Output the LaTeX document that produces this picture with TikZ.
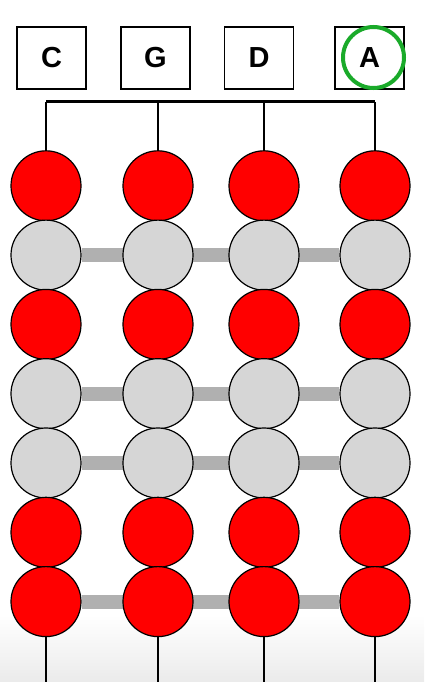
\documentclass[tikz,border=0pt]{standalone}
\usepackage{fontspec}
\setmainfont{Liberation Sans}
\usetikzlibrary{positioning,backgrounds}
\definecolor{padRed}{HTML}{FF0000}
\definecolor{padGray}{HTML}{D6D6D6}
\definecolor{barGray}{HTML}{B0B0B0}
\definecolor{ringGreen}{HTML}{1AAA2A}

\begin{document}
\begin{tikzpicture}[x=1pt,y=-1pt,>=latex]
  \tikzstyle{key}=[draw,line width=1.2pt,minimum width=69pt,minimum height=62pt,font=\fontsize{29}{30}\selectfont\bfseries]
  \tikzstyle{hit}=[circle,draw,line width=1.2pt,fill=padRed,minimum size=70pt,inner sep=0pt]
  \tikzstyle{rest}=[circle,draw,line width=1.2pt,fill=padGray,minimum size=70pt,inner sep=0pt]
  \useasboundingbox (0,0) rectangle (424,682);
  \node[key] (c) at (51.5,58) {C};
  \node[key] (g) at (155.5,58) {G};
  \node[key] (d) at (259,58) {D};
  \node[key] (a) at (369.5,58) {A};
  \node[circle,draw=ringGreen,line width=4pt,minimum size=61pt,inner sep=0pt] (ring) at (373.5,57.5) {};
  % pads, row by row
  \foreach \r/\kind in {1/hit,2/rest,3/hit,4/rest,5/rest,6/hit,7/hit}
    \foreach \x [count=\c] in {46,158,264,375}
      \node[\kind] (p\r\c) at (\x,{116.5+69.3*\r}) {};
  % bracket and strings
  \coordinate (bl) at (46,102);
  \coordinate (br) at (375,102);
  \coordinate (foot) at (0,682);
  \draw[line width=3pt] (bl) -- (br);
  \foreach \c in {1,2,3,4} {
    \draw[line width=1.2pt] (p1\c.north) -- (p1\c.north |- bl);
    \draw[line width=1.2pt] (p7\c.south) -- (p7\c.south |- foot);
  }
  \begin{pgfonlayer}{background}
    \shade[top color=white,bottom color=black!8] (0,615) rectangle (424,682);
    \foreach \r in {2,4,5,7}
      \draw[barGray,line width=14pt] (p\r1) -- (p\r4);
  \end{pgfonlayer}
\end{tikzpicture}
\end{document}
